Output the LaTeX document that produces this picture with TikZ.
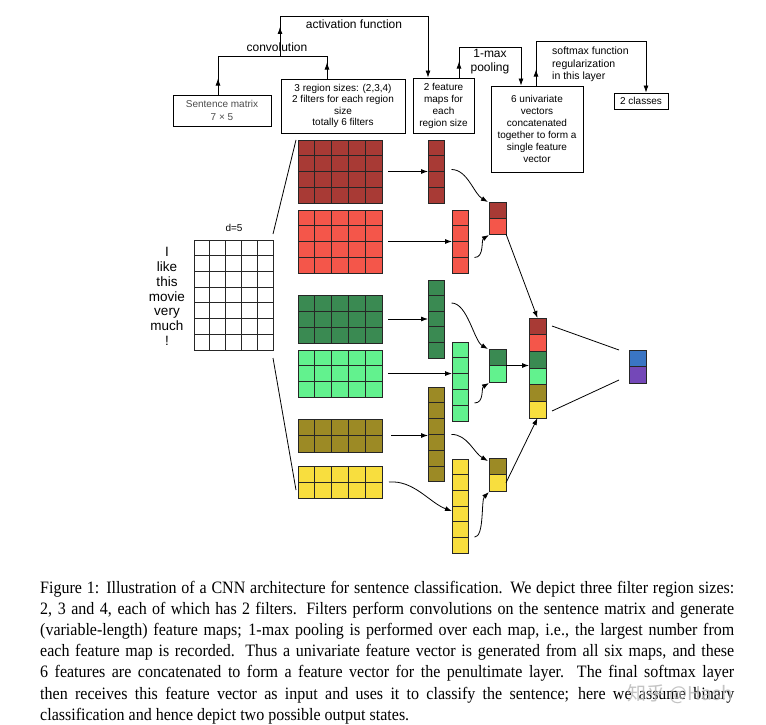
\documentclass[tikz,border=0pt]{standalone}
\usepackage{fontspec}
\setmainfont{Liberation Sans}
\newfontfamily\capfont[FakeStretch=0.92]{Liberation Serif}
\newfontfamily\cjkfont{Noto Sans CJK SC}
\usetikzlibrary{arrows.meta,calc}
\definecolor{cdred}{RGB}{168,58,53}
\definecolor{cred}{RGB}{244,86,74}
\definecolor{cdgreen}{RGB}{58,138,82}
\definecolor{clgreen}{RGB}{98,242,142}
\definecolor{colive}{RGB}{156,138,37}
\definecolor{cyellow}{RGB}{248,222,62}
\definecolor{cblue}{RGB}{58,117,196}
\definecolor{cpurple}{RGB}{116,72,184}
\tikzset{
  cellblk/.style={draw=black!85, line width=0.9pt, inner sep=0pt, outer sep=0pt},
  cellline/.style={draw=black!85, line width=0.9pt},
  conn/.style={line width=0.8pt},
  boxnode/.style={draw, line width=0.9pt, inner sep=0pt, align=center, font=\fontsize{10}{12}\selectfont},
  lbl/.style={inner sep=0pt, font=\fontsize{12}{14}\selectfont},
}
\newcommand\cnnblock[8]{%
  \pgfmathsetmacro\cbw{#4*#6}\pgfmathsetmacro\cbh{#5*#7}%
  \node[cellblk, fill=#8, minimum width=\cbw pt, minimum height=\cbh pt] (#1) at ({#2+\cbw/2},{#3+\cbh/2}) {};
  \pgfmathtruncatemacro\cbc{#4-1}\pgfmathtruncatemacro\cbr{#5-1}%
  \foreach \cc in {0,...,\cbc}{\foreach \rr in {0,...,\cbr}{\draw[cellline] ({#2+\cc*#6},{#3+\rr*#7}) rectangle ++(#6,#7);}}%
}
\newcommand\capline[1]{\hbox to 694pt{#1}}
\begin{document}
\begin{tikzpicture}[x=1pt,y=-1pt,>={Latex[length=7pt,width=5pt]}]
\useasboundingbox[fill=white] (0,0) rectangle (766,725);

% top boxes
\node[boxnode, minimum width=98pt, minimum height=31pt, text=black!70, font=\fontsize{10}{13.5}\selectfont] (sm) at (222,110.5) {Sentence matrix\\7 × 5};
\node[boxnode, minimum width=124pt, minimum height=54pt, font=\fontsize{10}{11.5}\selectfont] (rg) at (343,106) {3 region sizes: (2,3,4)\\2 filters for each region\\size\\totally 6 filters};
\node[boxnode, minimum width=61pt, minimum height=55pt] (fm) at (443.5,105.5) {2 feature\\maps for\\each\\region size};
\node[boxnode, minimum width=92pt, minimum height=86pt] (uv) at (537,129) {6 univariate\\vectors\\concatenated\\together to form a\\single feature\\vector};
\node[boxnode, minimum width=54pt, minimum height=16pt] (cl) at (641,101) {2 classes};

% top connectors
\coordinate (cvL) at (218,56); \coordinate (cvR) at (327,56); \coordinate (cvM) at (280,56);
\coordinate (afL) at (280,16); \coordinate (afR) at (428,16);
\coordinate (mpL) at (459,47); \coordinate (mpR) at (521,47);
\coordinate (sxL) at (536,41); \coordinate (sxR) at (646,41);
\draw[conn] (sm.north -| cvL) -- (cvL) -- (cvR) -- (rg.north -| cvR);
\draw[conn,->] (sm.north -| cvL) -- ($(sm.north -| cvL)+(0,-16)$);
\draw[conn,->] (rg.north -| cvR) -- ($(rg.north -| cvR)+(0,-16)$);
\draw[conn,->] (cvM) -- (afL) -- (afR) -- (fm.north -| afR);
\draw[conn,->] (cvM) -- ($(cvM)+(0,-29)$);
\draw[conn,->] (fm.north -| mpL) -- (mpL) -- (mpR) -- (uv.north -| mpR);
\draw[conn,->] (fm.north -| mpL) -- ($(fm.north -| mpL)+(0,-16)$);
\draw[conn,->] (uv.north -| sxL) -- (sxL) -- (sxR) -- (cl.north -| sxR);
\draw[conn,->] (uv.north -| sxL) -- ($(uv.north -| sxL)+(0,-16)$);

\node[lbl] (lconv) at (277,47) {convolution};
\node[lbl] (lact) at (354,24) {activation function};
\node[lbl, align=center] (lpool) at (490,62) {1-max\\pooling};
\node[inner sep=0pt, anchor=north west, align=left, font=\fontsize{10.5}{12.5}\selectfont] (lsoft) at (552,47) {softmax function\\regularization\\in this layer};

% sentence matrix
\node[inner sep=0pt, align=center, font=\fontsize{13.5}{14.8}\selectfont] (words) at (167,296.5) {I\\like\\this\\movie\\very\\much\\!};
\node[inner sep=0pt, font=\fontsize{10}{12}\selectfont] (dlbl) at (234,228) {d=5};
\cnnblock{sg}{194}{240}{5}{7}{15.8}{15.714}{white}

% filters
\cnnblock{f1}{298}{140}{5}{4}{16.8}{15.75}{cdred}
\cnnblock{f2}{298}{210}{5}{4}{16.8}{15.75}{cred}
\cnnblock{f3}{298}{295}{5}{3}{16.8}{16}{cdgreen}
\cnnblock{f4}{298}{350}{5}{3}{16.8}{15.7}{clgreen}
\cnnblock{f5}{298}{419}{5}{2}{16.8}{16.5}{colive}
\cnnblock{f6}{298}{466}{5}{2}{16.8}{16}{cyellow}

% feature maps
\cnnblock{m1}{428}{140}{1}{4}{16.5}{15.75}{cdred}
\cnnblock{m2}{452}{210}{1}{4}{16.5}{15.75}{cred}
\cnnblock{m3}{428}{280}{1}{5}{16.5}{15.6}{cdgreen}
\cnnblock{m4}{452}{342}{1}{5}{16.5}{15.8}{clgreen}
\cnnblock{m5}{428}{387}{1}{6}{16.5}{15.8}{colive}
\cnnblock{m6}{452}{459}{1}{6}{16.5}{15.7}{cyellow}

% pooled
\cnnblock{p1a}{489}{202}{1}{1}{17}{16}{cdred}
\cnnblock{p1b}{489}{218}{1}{1}{17}{16}{cred}
\cnnblock{p2a}{489}{349}{1}{1}{17}{16.5}{cdgreen}
\cnnblock{p2b}{489}{365.5}{1}{1}{17}{16.5}{clgreen}
\cnnblock{p3a}{489}{458}{1}{1}{17}{16.5}{colive}
\cnnblock{p3b}{489}{474.5}{1}{1}{17}{16.5}{cyellow}

% concatenated vector
\cnnblock{v1}{529}{318}{1}{1}{17}{16.67}{cdred}
\cnnblock{v2}{529}{334.67}{1}{1}{17}{16.67}{cred}
\cnnblock{v3}{529}{351.33}{1}{1}{17}{16.67}{cdgreen}
\cnnblock{v4}{529}{368}{1}{1}{17}{16.67}{clgreen}
\cnnblock{v5}{529}{384.67}{1}{1}{17}{16.67}{colive}
\cnnblock{v6}{529}{401.33}{1}{1}{17}{16.67}{cyellow}

% output
\cnnblock{o1}{629}{350}{1}{1}{17}{16.5}{cblue}
\cnnblock{o2}{629}{366.5}{1}{1}{17}{16.5}{cpurple}

% matrix to filters
\draw[conn] ($(sg.north east)+(0,-6)$) -- ($(f1.north west)+(-2,0)$);
\draw[conn] ($(sg.south east)+(0,8)$) -- ($(f6.south west)+(-2,-8)$);

% filters to maps
\draw[conn,->] ($(f1.east)+(6,0)$) -- (f1.east -| m1.west);
\draw[conn,->] ($(f2.east)+(6,0)$) -- (f2.east -| m2.west);
\draw[conn,->] ($(f3.east)+(6,0)$) -- (f3.east -| m3.west);
\draw[conn,->] ($(f4.east)+(6,0)$) -- (f4.east -| m4.west);
\draw[conn,->] ($(f5.east)+(9,0)$) -- (f5.east -| m5.west);
\draw[conn,->] ($(f6.east)+(7,0)$) .. controls +(25,-2) and +(-22,-8) .. ($(m6.west)+(0,5)$);

% maps to pooled
\draw[conn,->] ($(m1.east)+(7,-2)$) .. controls +(16,0) and +(-14,-8) .. ($(p1a.north west)+(-1,0)$);
\draw[conn,->] ($(m2.east)+(6,16)$) .. controls +(10,0) and +(-8,5) .. ($(p1b.south west)+(0,1)$);
\draw[conn,->] ($(m3.east)+(7,-16)$) .. controls +(16,0) and +(-14,-8) .. ($(p2a.north west)+(-1,0)$);
\draw[conn,->] ($(m4.east)+(6,21.5)$) .. controls +(10,0) and +(-8,5) .. ($(p2b.south west)+(0,1)$);
\draw[conn,->] ($(m5.east)+(7,0)$) .. controls +(16,0) and +(-14,-8) .. ($(p3a.north west)+(-1,3)$);
\draw[conn,->] ($(m6.east)+(6,31)$) .. controls +(10,0) and +(-8,8) .. ($(p3b.south west)+(0,1)$);

% pooled to vector
\draw[conn,->] (p1b.south east) -- (v1.north);
\draw[conn,->] (p2a.south east) -- (p2a.south east -| v1.west);
\draw[conn,->] (p3b.east) -- (v6.south);

% vector to output
\draw[conn] ($(v1.north east)+(6,8)$) -- ($(o1.north west)+(-10,0)$);
\draw[conn] ($(v6.south east)+(6,-7)$) -- ($(o2.south west)+(-10,-3)$);

% caption
\node[inner sep=0pt, anchor=base west] (cap) at (40,593) {\parbox[t]{694pt}{\capfont\fontsize{17.4}{21.2}\selectfont
\capline{Figure 1: Illustration of a CNN architecture for sentence classification. We depict three filter region sizes:}
\capline{2, 3 and 4, each of which has 2 filters. Filters perform convolutions on the sentence matrix and generate}
\capline{(variable-length) feature maps; 1-max pooling is performed over each map, i.e., the largest number from}
\capline{each feature map is recorded. Thus a univariate feature vector is generated from all six maps, and these}
\capline{6 features are concatenated to form a feature vector for the penultimate layer. The final softmax layer}
\capline{then receives this feature vector as input and uses it to classify the sentence; here we assume binary}
\hbox{classification and hence depict two possible output states.}}};
\node[inner sep=0pt, text=gray!55, opacity=0.85, font=\cjkfont\fontsize{19}{19}\selectfont] (wm) at (680,694) {知乎 @Hash};
\end{tikzpicture}
\end{document}
